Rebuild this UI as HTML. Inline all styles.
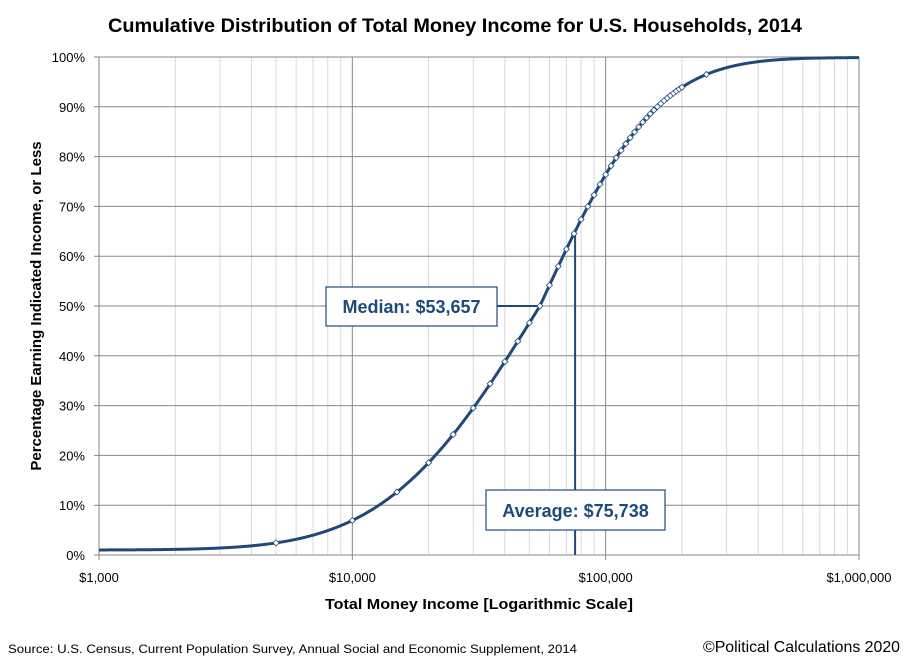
<!DOCTYPE html>
<html><head><meta charset="utf-8"><style>
html,body{margin:0;padding:0;background:#fff;}
svg text{font-family:"Liberation Sans",sans-serif;}
</style></head><body>
<svg id="s" width="910" height="662" viewBox="0 0 910 662" xmlns="http://www.w3.org/2000/svg">
<rect width="910" height="662" fill="#fff"/>
<text x="108" y="32" textLength="694" lengthAdjust="spacingAndGlyphs" font-size="19" font-weight="bold" fill="#000">Cumulative Distribution of Total Money Income for U.S. Households, 2014</text>
<g id="grid"></g>
<g id="curve"></g>
<text x="325" y="609" textLength="308" lengthAdjust="spacingAndGlyphs" font-size="15" font-weight="bold" fill="#000">Total Money Income [Logarithmic Scale]</text>
<text transform="translate(41,306) rotate(-90)" text-anchor="middle" font-size="15" font-weight="bold" fill="#000">Percentage Earning Indicated Income, or Less</text>
<text x="8" y="653" textLength="569" lengthAdjust="spacingAndGlyphs" font-size="11.5" fill="#000">Source: U.S. Census, Current Population Survey, Annual Social and Economic Supplement, 2014</text>
<text x="703" y="652" textLength="197" lengthAdjust="spacingAndGlyphs" font-size="16" fill="#000">©Political Calculations 2020</text>
</svg>
<script>
var L=99,R=859,T=57,B=555,D=(R-L)/3;
function X(v){return L+D*(Math.log10(v)-3);}
function Y(p){return B-(B-T)*p;}
function erf(x){var s=x<0?-1:1;x=Math.abs(x);var t=1/(1+0.3275911*x);var y=1-(((((1.061405429*t-1.453152027)*t)+1.421413741)*t-0.284496736)*t+0.254829592)*t*Math.exp(-x*x);return s*y;}
function Phi(z){return 0.5*(1+erf(z/Math.SQRT2));}
var m=55000;
function F(v){var l=Math.log(v/m);if(l<0){return 0.01+0.98*Phi(l/1.1);}return 0.5+0.5*(2*Phi(l/0.83)-1)*0.998;}
var g='';
for(var d=0;d<3;d++)for(var k=2;k<10;k++){var x=X(Math.pow(10,3+d)*k);g+='<line x1="'+x+'" y1="'+T+'" x2="'+x+'" y2="'+B+'" stroke="#d9d9d9" stroke-width="1"/>';}
for(var i=0;i<=10;i++){var y=Y(i/10);g+='<line x1="'+(L-5)+'" y1="'+y+'" x2="'+R+'" y2="'+y+'" stroke="#878787" stroke-width="1"/>';
g+='<text x="'+(L-14)+'" y="'+(y+5)+'" text-anchor="end" font-size="13" fill="#000">'+(i*10)+'%</text>';}
var labs=['$1,000','$10,000','$100,000','$1,000,000'];
for(var d=0;d<=3;d++){var x=X(Math.pow(10,3+d));g+='<line x1="'+x+'" y1="'+T+'" x2="'+x+'" y2="'+(B+5)+'" stroke="#878787" stroke-width="1"/>';
g+='<text x="'+x+'" y="'+(B+27)+'" text-anchor="middle" font-size="13" fill="#000">'+labs[d]+'</text>';}
document.getElementById('grid').innerHTML=g;
var c='',p='';
for(var i=0;i<=600;i++){var v=Math.pow(10,3+3*i/600);p+=(i?'L':'M')+X(v).toFixed(2)+','+Y(F(v)).toFixed(2);}
var ax=X(75738);
c+='<line x1="'+ax+'" y1="'+B+'" x2="'+ax+'" y2="'+Y(F(75738))+'" stroke="#1f497d" stroke-width="2"/>';
c+='<line x1="497" y1="'+Y(0.5)+'" x2="'+X(m)+'" y2="'+Y(0.5)+'" stroke="#1f497d" stroke-width="2"/>';
c+='<path d="'+p+'" fill="none" stroke="#1f497d" stroke-width="3"/>';
var pts=[5000];for(var v=10000;v<=200000;v+=5000)pts.push(v);pts.push(250000);
pts.forEach(function(v){var x=X(v),y=Y(F(v));c+='<path d="M'+x+','+(y-3)+'L'+(x+3)+','+y+'L'+x+','+(y+3)+'L'+(x-3)+','+y+'Z" fill="#fff" stroke="#1f497d" stroke-width="0.8"/>';});
c+='<rect x="326" y="287" width="171" height="39" fill="#fff" stroke="#1f497d" stroke-width="1.2"/>';
c+='<text x="411.5" y="313" text-anchor="middle" font-size="18" font-weight="bold" fill="#1f497d">Median:  $53,657</text>';
c+='<rect x="486" y="490" width="179" height="40" fill="#fff" stroke="#1f497d" stroke-width="1.2"/>';
c+='<text x="575.5" y="517" text-anchor="middle" font-size="18" font-weight="bold" fill="#1f497d">Average: $75,738</text>';
document.getElementById('curve').innerHTML=c;
</script>
</body></html>
